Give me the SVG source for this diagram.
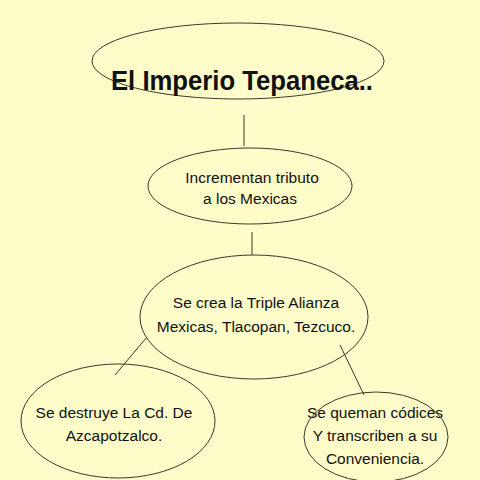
<svg xmlns="http://www.w3.org/2000/svg" width="480" height="480" viewBox="0 0 480 480">
<style>
.node{fill:none;stroke:#3a3a2a;stroke-width:1}
.conn{stroke:#3a3a2a;stroke-width:1;fill:none}
text{font-family:"Liberation Sans","DejaVu Sans",sans-serif;fill:#111;text-anchor:middle}
.t{font-size:15.5px}
.title{font-size:28px;font-weight:bold}
</style>
<rect width="480" height="480" fill="#FEFCC8"/>
<g id="connectors">
<line class="conn" x1="244" y1="115" x2="244" y2="146"/>
<line class="conn" x1="252" y1="232" x2="252" y2="255"/>
<line class="conn" x1="147" y1="337" x2="115" y2="375"/>
<line class="conn" x1="340" y1="345" x2="364" y2="395"/>
</g>
<g id="n1">
<ellipse class="node" cx="238" cy="61" rx="146" ry="38"/>
<text class="title" x="242" y="90" textLength="262" lengthAdjust="spacingAndGlyphs">El Imperio Tepaneca..</text>
</g>
<g id="n2">
<ellipse class="node" cx="250" cy="186" rx="102" ry="38"/>
<text class="t" x="252" y="183">Incrementan tributo</text>
<text class="t" x="250" y="204">a los Mexicas</text>
</g>
<g id="n3">
<ellipse class="node" cx="254" cy="317" rx="114" ry="62"/>
<text class="t" x="256" y="308" font-size="17px">Se crea la Triple Alianza</text>
<text class="t" x="256" y="332" font-size="17px">Mexicas, Tlacopan, Tezcuco.</text>
</g>
<g id="n4">
<ellipse class="node" cx="118" cy="421" rx="97" ry="57"/>
<text class="t" x="114" y="418">Se destruye La Cd. De</text>
<text class="t" x="114" y="441">Azcapotzalco.</text>
</g>
<g id="n5">
<ellipse class="node" cx="376" cy="437" rx="72" ry="45"/>
<text class="t" x="375" y="418">Se queman códices</text>
<text class="t" x="375" y="441">Y transcriben a su</text>
<text class="t" x="375" y="464">Conveniencia.</text>
</g>
</svg>
